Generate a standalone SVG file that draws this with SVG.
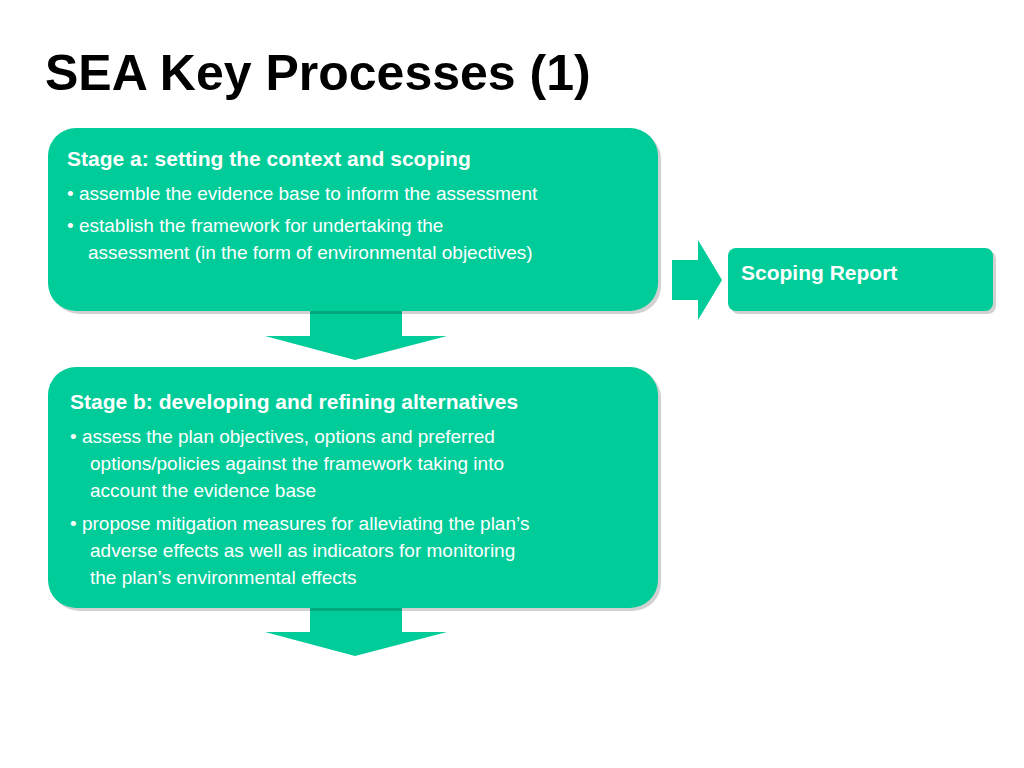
<svg xmlns="http://www.w3.org/2000/svg" width="1024" height="768" viewBox="0 0 1024 768">
<defs>
<style>
.box{fill:#00CC99}
.sh{fill:#000;opacity:0.18}
.t{font-family:"Liberation Sans",Arial,sans-serif;fill:#fff}
.h{font-size:21px;font-weight:bold}
.b{font-size:19px}
</style>
</defs>
<rect width="1024" height="768" fill="#fff"/>
<text x="45" y="90" font-family="Liberation Sans,Arial,sans-serif" font-size="50" font-weight="bold" fill="#000">SEA Key Processes (1)</text>
<g id="connectors">
<polygon class="box" points="310,311 402,311 402,336 447,336 355,360 265,336 310,336"/>
<polygon class="box" points="310,608 402,608 402,632 447,632 355,656 265,632 310,632"/>
<polygon class="box" points="672,260 698,260 698,240 722,280 698,320 698,300 672,300"/>
</g>
<g id="stage-a">
<rect class="sh" x="51" y="131" width="610" height="183" rx="28"/>
<rect class="box" x="48" y="128" width="610" height="183" rx="28"/>
<text class="t h" x="67" y="166">Stage a: setting the context and scoping</text>
<text class="t b" x="67" y="200">•  assemble the evidence base to inform the assessment</text>
<text class="t b" x="67" y="232">•  establish the framework for undertaking the</text>
<text class="t b" x="88" y="259">assessment (in the form of environmental objectives)</text>
</g>
<g id="stage-b">
<rect class="sh" x="51" y="370" width="610" height="241" rx="28"/>
<rect class="box" x="48" y="367" width="610" height="241" rx="28"/>
<text class="t h" x="70" y="409">Stage b: developing and refining alternatives</text>
<text class="t b" x="70" y="443">•  assess the plan objectives, options and preferred</text>
<text class="t b" x="90" y="470">options/policies against the framework taking into</text>
<text class="t b" x="90" y="497">account the evidence base</text>
<text class="t b" x="70" y="530">•  propose mitigation measures for alleviating the plan’s</text>
<text class="t b" x="90" y="557">adverse effects as well as indicators for monitoring</text>
<text class="t b" x="90" y="584">the plan’s environmental  effects</text>
</g>
<g id="scoping-report">
<rect class="sh" x="731" y="251" width="265" height="63" rx="8"/>
<rect class="box" x="728" y="248" width="265" height="63" rx="8"/>
<text class="t h" x="741" y="280">Scoping Report</text>
</g>
</svg>
